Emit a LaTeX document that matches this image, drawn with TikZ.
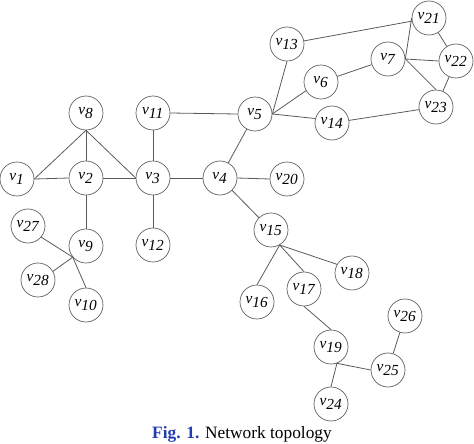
\documentclass[tikz,border=0pt]{standalone}
\usepackage{fontspec}
\setmainfont{Liberation Serif}
\usepackage{tikz}
\usetikzlibrary{calc,positioning}
\definecolor{edgeGray}{RGB}{90,90,90}
\definecolor{figBlue}{RGB}{35,60,175}
\newcommand{\vx}[1]{\textit{v}$_{\textit{#1}}$}

\begin{document}
\begin{tikzpicture}[x=0.75pt,y=-0.75pt,font=\fontsize{11.5}{13}\selectfont,
    vertex/.style={circle, draw=edgeGray, line width=0.5pt, minimum size=25.5pt, inner sep=0pt},
    link/.style={draw=edgeGray, line width=0.6pt},
    ]
    \useasboundingbox (0,0) rectangle (474,443);

    \node[vertex] (v1) at (17,179) {\vx{1}};
    \node[vertex] (v2) at (86,178) {\vx{2}};
    \node[vertex] (v3) at (153,178) {\vx{3}};
    \node[vertex] (v4) at (220,178) {\vx{4}};
    \node[vertex] (v5) at (255,114) {\vx{5}};
    \node[vertex] (v6) at (321,82) {\vx{6}};
    \node[vertex] (v7) at (388,59) {\vx{7}};
    \node[vertex] (v8) at (86,113) {\vx{8}};
    \node[vertex] (v9) at (86,246) {\vx{9}};
    \node[vertex] (v10) at (86,305) {\vx{10}};
    \node[vertex] (v11) at (153,113) {\vx{11}};
    \node[vertex] (v12) at (153,245) {\vx{12}};
    \node[vertex] (v13) at (287,44) {\vx{13}};
    \node[vertex] (v14) at (332,123) {\vx{14}};
    \node[vertex] (v15) at (271,230) {\vx{15}};
    \node[vertex] (v16) at (257,302) {\vx{16}};
    \node[vertex] (v17) at (304,289) {\vx{17}};
    \node[vertex] (v18) at (352,273) {\vx{18}};
    \node[vertex] (v19) at (331,347) {\vx{19}};
    \node[vertex] (v20) at (287,179) {\vx{20}};
    \node[vertex] (v21) at (429,18) {\vx{21}};
    \node[vertex] (v22) at (456,61) {\vx{22}};
    \node[vertex] (v23) at (436,107) {\vx{23}};
    \node[vertex] (v24) at (331,404) {\vx{24}};
    \node[vertex] (v25) at (388,370) {\vx{25}};
    \node[vertex] (v26) at (405,316) {\vx{26}};
    \node[vertex] (v27) at (28,226) {\vx{27}};
    \node[vertex] (v28) at (38,280) {\vx{28}};

    \node[anchor=base] (caption) at (242,438) {\fontsize{13}{15}\selectfont\textcolor{figBlue}{\textbf{Fig. 1.}} Network topology};

    \draw[link] (v8.south) -- (v1.east);
    \draw[link] (v8.south) -- (v2.north);
    \draw[link] (v8.south) -- (v3.west);
    \draw[link] (v1.east) -- (v2.west);
    \draw[link] (v2.east) -- (v3.west);
    \draw[link] (v3.east) -- (v4.west);
    \draw[link] (v3.north) -- (v11.south);
    \draw[link] (v3.south) -- (v12.north);
    \draw[link] (v2.south) -- (v9.north);
    \draw[link] (v9.220) -- (v27.-40);
    \draw[link] (v9.220) -- (v28.30);
    \draw[link] (v9.220) -- (v10.north);
    \draw[link] (v11.east) -- (v5.west);
    \draw[link] (v4) -- (v5);
    \draw[link] (v4.east) -- (v20.west);
    \draw[link] (v4) -- (v15);
    \draw[link] (v5.east) -- (v13.south);
    \draw[link] (v5.east) -- (v6.210);
    \draw[link] (v5.east) -- (v14.165);
    \draw[link] (v13) -- (v21);
    \draw[link] (v6) -- (v7);
    \draw[link] (v14) -- (v23);
    \draw[link] (v7.east) -- (v21.west);
    \draw[link] (v7.east) -- (v22.west);
    \draw[link] (v7.east) -- (v23.north);
    \draw[link] (v21) -- (v22);
    \draw[link] (v22) -- (v23);
    \draw[link] (v15.-60) -- (v16.north);
    \draw[link] (v15.-60) -- (v17.north);
    \draw[link] (v15.-60) -- (v18.150);
    \draw[link] (v17.south) -- (v19.north);
    \draw[link] (v19.-70) -- (v24.north);
    \draw[link] (v19.-70) -- (v25.west);
    \draw[link] (v25) -- (v26);
\end{tikzpicture}
\end{document}
